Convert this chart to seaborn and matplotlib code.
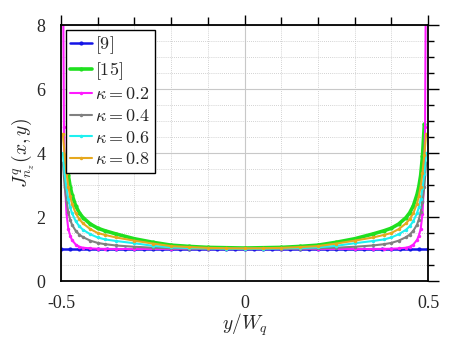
import matplotlib
matplotlib.use("Agg")
import matplotlib.pyplot as plt
import matplotlib.ticker as mticker
import numpy as np
import pandas as pd
import seaborn as sns

# ---------------- data ----------------
y_ref9 = [-0.500, -0.475, -0.450, -0.425, -0.400, -0.375, -0.350, -0.325, -0.300, -0.275,
          -0.250, -0.225, -0.200, -0.175, -0.150, -0.125, -0.100, -0.075, -0.050, -0.025,
          0.000, 0.025, 0.050, 0.075, 0.100, 0.125, 0.150, 0.175, 0.200, 0.225,
          0.250, 0.275, 0.300, 0.325, 0.350, 0.375, 0.400, 0.425, 0.450, 0.475, 0.500]
J_ref9 = [1.0, 1.0, 1.0, 1.0, 1.0, 1.0, 1.0, 1.0, 1.0, 1.0,
          1.0, 1.0, 1.0, 1.0, 1.0, 1.0, 1.0, 1.0, 1.0, 1.0,
          1.0, 1.0, 1.0, 1.0, 1.0, 1.0, 1.0, 1.0, 1.0, 1.0,
          1.0, 1.0, 1.0, 1.0, 1.0, 1.0, 1.0, 1.0, 1.0, 1.0, 1.0]

y_ref15 = [-0.485, -0.48, -0.475, -0.47, -0.46, -0.45, -0.44, -0.42, -0.40, -0.38,
           -0.35, -0.30, -0.25, -0.20, -0.15, -0.10, -0.05, 0.00,
           0.05, 0.10, 0.15, 0.20, 0.25, 0.30, 0.35, 0.38, 0.40, 0.42,
           0.44, 0.45, 0.46, 0.47, 0.475, 0.48, 0.485, 0.49]
J_ref15 = [3.70, 3.30, 2.95, 2.70, 2.35, 2.13, 1.98, 1.78, 1.65, 1.57,
           1.47, 1.32, 1.21, 1.12, 1.08, 1.05, 1.04, 1.03,
           1.04, 1.05, 1.08, 1.12, 1.21, 1.32, 1.47, 1.57, 1.65, 1.78,
           1.98, 2.13, 2.35, 2.70, 2.95, 3.30, 3.90, 4.90]

y_kappa = [-0.495, -0.49, -0.485, -0.48, -0.475, -0.47, -0.46, -0.45, -0.44, -0.42,
           -0.40, -0.38, -0.35, -0.30, -0.25, -0.20, -0.15, -0.10, -0.05, 0.00,
           0.05, 0.10, 0.15, 0.20, 0.25, 0.30, 0.35, 0.38, 0.40, 0.42,
           0.44, 0.45, 0.46, 0.47, 0.475, 0.48, 0.485, 0.49, 0.495]
J_k08 = [4.60, 3.95, 3.38, 2.95, 2.65, 2.42, 2.12, 1.93, 1.80, 1.62,
         1.50, 1.44, 1.36, 1.26, 1.17, 1.09, 1.06, 1.035, 1.025, 1.02,
         1.025, 1.035, 1.06, 1.09, 1.17, 1.26, 1.36, 1.44, 1.50, 1.62,
         1.80, 1.93, 2.12, 2.42, 2.65, 2.95, 3.38, 3.95, 4.60]
J_k06 = [4.00, 3.35, 2.90, 2.55, 2.30, 2.12, 1.87, 1.71, 1.60, 1.46,
         1.36, 1.30, 1.25, 1.18, 1.10, 1.05, 1.03, 1.02, 1.012, 1.01,
         1.012, 1.02, 1.03, 1.05, 1.10, 1.18, 1.25, 1.30, 1.36, 1.46,
         1.60, 1.71, 1.87, 2.12, 2.30, 2.55, 2.90, 3.35, 4.00]
J_k04 = [3.70, 2.95, 2.48, 2.15, 1.92, 1.76, 1.57, 1.45, 1.37, 1.26,
         1.19, 1.15, 1.11, 1.07, 1.04, 1.02, 1.01, 1.005, 1.00, 1.00,
         1.00, 1.005, 1.01, 1.02, 1.04, 1.07, 1.11, 1.15, 1.19, 1.26,
         1.37, 1.45, 1.57, 1.76, 1.92, 2.15, 2.48, 2.95, 3.70]

y_k02 = [-0.494, -0.492, -0.49, -0.485, -0.48, -0.475, -0.47, -0.46, -0.45, -0.44,
         -0.42, -0.40, -0.38, -0.35, -0.30, -0.20, -0.10, 0.00,
         0.10, 0.20, 0.30, 0.35, 0.38, 0.40, 0.42, 0.44, 0.45, 0.46,
         0.47, 0.475, 0.48, 0.485, 0.49, 0.492, 0.494]
J_k02 = [9.00, 4.80, 3.30, 2.10, 1.62, 1.42, 1.28, 1.14, 1.07, 1.04,
         1.018, 1.008, 1.003, 1.001, 1.00, 1.00, 1.00, 1.00,
         1.00, 1.00, 1.00, 1.001, 1.003, 1.008, 1.018, 1.04, 1.07, 1.14,
         1.28, 1.42, 1.62, 2.10, 3.30, 4.80, 9.00]

labels = [r"$[9]$", r"$[15]$", r"$\kappa = 0.2$", r"$\kappa = 0.4$",
          r"$\kappa = 0.6$", r"$\kappa = 0.8$"]
x_ticks = [-0.5, 0.0, 0.5]
x_ticklabels = ["-0.5", "0", "0.5"]
y_ticks = [0, 2, 4, 6, 8]
y_ticklabels = ["0", "2", "4", "6", "8"]

# ---------------- style ----------------
sns.set_style("white")
plt.rcParams["font.family"] = ["Liberation Serif", "DejaVu Serif"]
plt.rcParams["mathtext.fontset"] = "cm"

series = [
    (y_ref9, J_ref9, labels[0], "#1414e6", 1.8, 3.0),
    (y_ref15, J_ref15, labels[1], "#1fe01f", 2.6, 3.0),
    (y_k02, J_k02, labels[2], "#ff1aff", 1.5, 2.5),
    (y_kappa, J_k04, labels[3], "#808080", 1.5, 2.5),
    (y_kappa, J_k06, labels[4], "#1ef0f0", 1.5, 2.5),
    (y_kappa, J_k08, labels[5], "#e6a81e", 1.5, 2.5),
]

fig = plt.figure(figsize=(4.74, 3.38), dpi=100)
ax = fig.add_axes([61 / 474, 1 - 281 / 338, (428 - 61) / 474, (281 - 25) / 338])

for xs, ys, lab, col, lw, ms in series:
    df = pd.DataFrame({"y": xs, "J": ys})
    sns.lineplot(data=df, x="y", y="J", ax=ax, color=col, lw=lw, marker="o",
                 markersize=ms, markeredgewidth=0, label=lab, sort=False,
                 estimator=None)

ax.set_xlim(-0.5, 0.5)
ax.set_ylim(0, 8)
ax.set_xticks(x_ticks)
ax.set_xticklabels(x_ticklabels)
ax.set_yticks(y_ticks)
ax.set_yticklabels(y_ticklabels)
ax.xaxis.set_minor_locator(mticker.MultipleLocator(0.1))
ax.yaxis.set_minor_locator(mticker.MultipleLocator(0.5))

ax.tick_params(which="both", direction="out", top=True, right=True,
               color="black", width=1.0, labelsize=13, pad=3)
ax.tick_params(axis="x", which="major", length=7)
ax.tick_params(axis="x", which="minor", length=6)
ax.tick_params(axis="y", which="major", length=8)
ax.tick_params(axis="y", which="minor", length=4.5)

ax.grid(which="major", color="#c8c8c8", lw=0.8, ls="-")
ax.grid(which="minor", color="#c4c4c4", lw=0.6, ls=(0, (1, 1.5)))
ax.set_axisbelow(True)

for sp in ax.spines.values():
    sp.set_color("black")
    sp.set_linewidth(1.3)

ax.set_xlabel(r"$y/W_q$", fontsize=14, labelpad=0)
ax.set_ylabel(r"$J^{q}_{n_z}(x,y)$", fontsize=14, labelpad=0)

leg = ax.legend(loc="upper left", fontsize=13, frameon=True, fancybox=False,
                framealpha=1, edgecolor="black", handlelength=1.2,
                handletextpad=0.2, labelspacing=0.25, borderpad=0.25,
                borderaxespad=0.25)
leg.get_frame().set_linewidth(1.0)

fig.savefig("out.png", dpi=100)
